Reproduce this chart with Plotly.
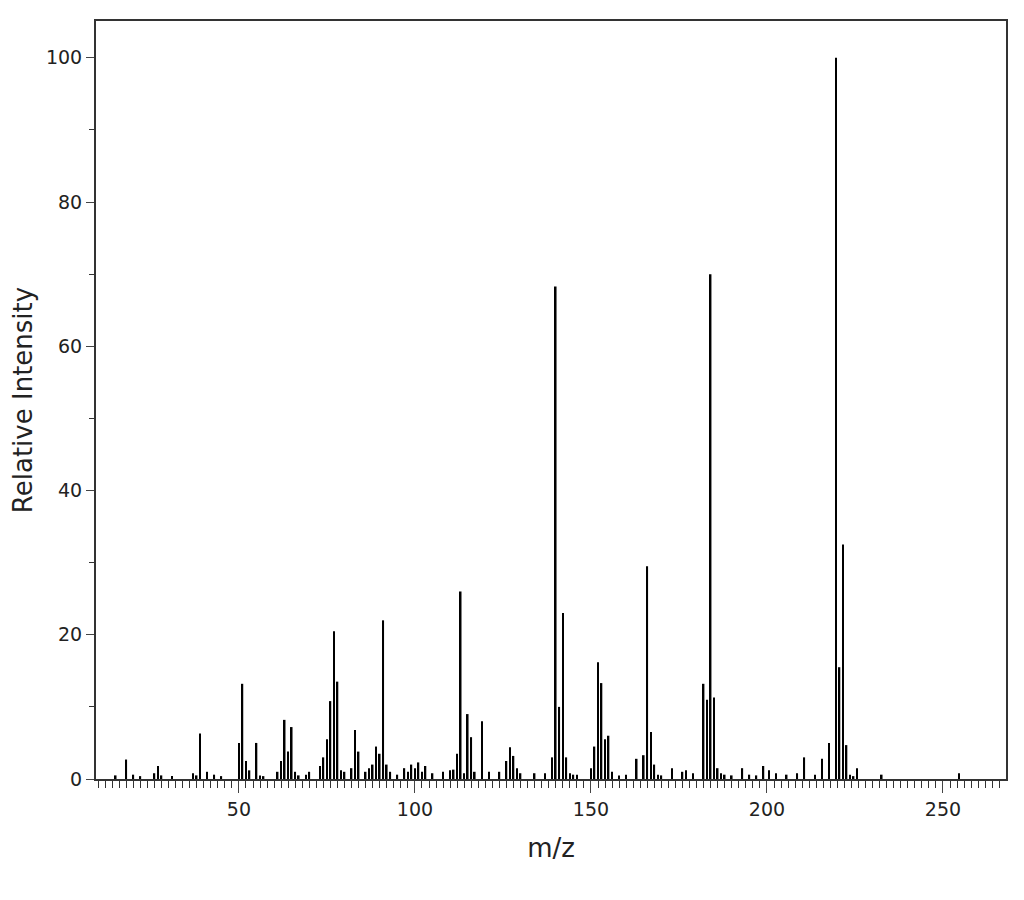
import plotly.graph_objects as go

mz = [15,18,20,22,26,27,28,31,37,38,39,41,43,45,50,51,52,53,55,56,57,61,62,63,64,65,66,67,69,70,73,74,75,76,77,78,79,80,82,83,84,86,87,88,89,90,91,92,93,95,97,98,99,100,101,102,103,105,108,110,111,112,113,114,115,116,117,119,121,124,126,127,128,129,130,134,137,139,140,141,142,143,144,145,146,150,151,152,153,154,155,156,158,160,163,165,166,167,168,169,170,173,176,177,179,182,183,184,185,186,187,188,190,193,195,197,199,200,202,205,208,210,213,215,217,219,220,221,222,223,224,225,232,254,255,256]
inten = [0.5,2.7,0.6,0.4,0.8,1.8,0.5,0.4,0.8,0.5,6.3,1.0,0.6,0.4,5.0,13.2,2.5,1.2,5.0,0.5,0.4,1.0,2.5,8.2,3.8,7.2,1.0,0.5,0.6,1.0,1.8,3.0,5.5,10.8,20.5,13.5,1.2,1.0,1.5,6.8,3.8,1.0,1.5,2.0,4.5,3.5,22.0,2.0,1.0,0.6,1.5,1.0,2.0,1.5,2.3,1.0,1.8,0.8,1.0,1.2,1.3,3.5,26.0,0.8,9.0,5.8,1.0,8.0,1.0,1.0,2.5,4.4,3.2,1.5,0.8,0.8,0.8,3.0,68.3,10.0,23.0,3.0,0.8,0.6,0.6,1.5,4.5,16.2,13.3,5.5,6.0,1.0,0.5,0.6,2.8,3.3,29.5,6.5,2.0,0.6,0.5,1.5,1.0,1.2,0.8,13.2,11.0,70.0,11.3,1.5,0.8,0.6,0.5,1.5,0.6,0.5,1.8,1.2,0.8,0.6,0.8,3.0,0.6,2.8,5.0,100.0,15.5,32.5,4.7,0.6,0.4,1.5,0.6,0.8]
# shift to picture calibration (base peak at ~221.6)
mz_plot = [m + 0.6 if m >= 200 else m for m in mz]

fig = go.Figure(go.Bar(x=mz_plot, y=inten, width=0.45, marker=dict(color="black", line=dict(width=0))))
fig.update_layout(
    width=1024, height=900, plot_bgcolor="white", paper_bgcolor="white",
    margin=dict(l=88, r=26, t=11, b=129), showlegend=False,
    font=dict(family="DejaVu Sans", size=19, color="#222"),
)
fig.update_xaxes(range=[9.4, 267.9], tickvals=[50,100,150,200,250], ticks="outside", ticklen=12,
                 minor=dict(dtick=2, tick0=10, ticks="outside", ticklen=7, tickcolor="#333"),
                 showline=True, linecolor="#333", linewidth=2, mirror=True, showgrid=False,
                 title=dict(text="m/z", font=dict(size=26), standoff=20), zeroline=False)
fig.update_yaxes(range=[0, 105.1], tickvals=[0,20,40,60,80,100], ticks="outside", ticklen=8,
                 minor=dict(dtick=10, ticks="outside", ticklen=5, tickcolor="#333"),
                 showline=True, linecolor="#333", linewidth=2, mirror=True, showgrid=False,
                 title=dict(text="Relative Intensity", font=dict(size=26), standoff=8), zeroline=False)
fig.write_html("out.html")
